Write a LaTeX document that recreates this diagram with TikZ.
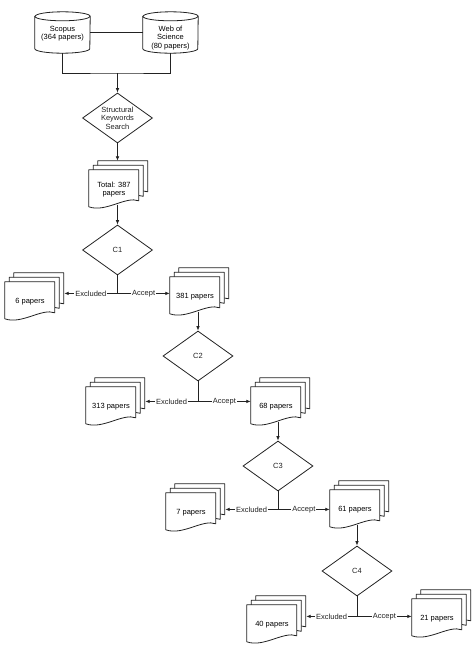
\documentclass[tikz,border=0pt]{standalone}
\usepackage{fontspec}
\setmainfont{Liberation Sans}
\usepackage{tikz}
\usetikzlibrary{arrows.meta,calc,shapes.geometric,backgrounds}
\definecolor{FlowInk}{HTML}{222222}

\tikzset{
  line/.style={FlowInk,line width=0.8pt},
  arr/.style={line,-{Latex[length=4.5pt,width=3.6pt]}},
  sheet/.style={line,fill=white,line join=round},
  sheettext/.style={font=\fontsize{7.5}{8.5}\selectfont,align=center,
    minimum width=50pt,minimum height=39pt,inner sep=0pt},
  check/.style={line,draw,diamond,aspect=1.4,minimum width=70pt,minimum height=50pt,
    inner sep=0pt,font=\fontsize{7.5}{8.5}\selectfont,align=center},
  dbbox/.style={minimum width=55pt,minimum height=41pt,inner sep=0pt},
  tag/.style={font=\fontsize{7.5}{8.5}\selectfont,fill=white,inner sep=1pt},
}

% three stacked sheets, #2 is the centre of the front sheet
\newcommand\paperstack[3]{%
  \node[sheettext] (#1) at (#2) {#3};
  \begin{pgfonlayer}{background}
    \begin{scope}[shift={(#1.north west)}]
      \foreach \k in {2,1,0}
        \draw[sheet,shift={(4.5*\k,-4.5*\k)}] (0,0) -- (50,0) -- (50,31)
          .. controls (37,26) and (17,43) .. (0,37) -- cycle;
    \end{scope}
  \end{pgfonlayer}
}
% database cylinder, #4 moves the text down
\newcommand\database[4]{%
  \node[dbbox] (#1) at (#2) {};
  \draw[line] ([yshift=-4.5pt]#1.north west) -- ([yshift=4.5pt]#1.south west)
    arc[start angle=180,end angle=360,x radius=27.5pt,y radius=4.5pt]
    -- ([yshift=-4.5pt]#1.north east)
    arc[start angle=0,end angle=180,x radius=27.5pt,y radius=4.5pt] -- cycle;
  \draw[line] ([yshift=-4.5pt]#1.north west)
    arc[start angle=180,end angle=360,x radius=27.5pt,y radius=4.5pt];
  \node[sheettext,minimum height=0pt] (#1-text) at ([yshift=#4]#1.center) {#3};
}

\begin{document}
\begin{tikzpicture}[x=1pt,y=-1pt]
  \useasboundingbox (0,0) rectangle (474,654);
  \database{scopus}{62.5,32.5}{Scopus\\(364 papers)}{-1pt}
  \database{wos}{170.5,32.5}{Web of\\Science\\(80 papers)}{-5.5pt}
  \node[check] (kw) at (117.5,118) {Structural\\Keywords\\Search};
  \paperstack{total}{114,189.5}{Total: 387\\papers}
  \node[check] (c1) at (117.5,250) {C1};
  \node[check] (c2) at (198,356) {C2};
  \node[check] (c3) at (278,466) {C3};
  \node[check] (c4) at (357,571) {C4};
  \paperstack{six}{30,301.5}{6 papers}
  \paperstack{s381}{195,296.5}{381 papers}
  \paperstack{s313}{111,406.5}{313 papers}
  \paperstack{s68}{276,406.5}{68 papers}
  \paperstack{s7}{191,512.5}{7 papers}
  \paperstack{s61}{355,509.5}{61 papers}
  \paperstack{s40}{272,624.5}{40 papers}
  \paperstack{s21}{437,618.5}{21 papers}

  % sources into the search
  \draw[line] (scopus) -- (wos);
  \coordinate (join) at (117.5,73);
  \draw[line] (scopus.south) |- (join) -| (wos.south);
  \draw[arr] (join) -- (kw.north);
  \draw[arr] (kw.south) -- ($(kw.south |- total.north)+(0,9pt)$);
  \draw[arr] ($(c1.north |- total.south)+(0,4.5pt)$) -- (c1.north);

  % each criterion splits into excluded and accepted papers
  \foreach \c/\d/\ex/\acc in {c1/18/six/s381,c2/20/s313/s68,c3/18/s7/s61,c4/20/s40/s21}{
    \coordinate (\c-b) at ($(\c.south)+(0,-\d pt)$);
    \draw[line] (\c.south) -- (\c-b);
    \draw[arr] (\c-b) -- ($(\c-b -| \ex.east)+(9pt,0)$) node[tag,midway] (\c-ex) {Excluded};
    \draw[arr] (\c-b) -- (\c-b -| \acc.west) node[tag,midway] (\c-acc) {Accept};
  }
  \foreach \a/\c in {s381/c2,s68/c3,s61/c4}
    \draw[arr] ($(\c.north |- \a.south)+(0,4.5pt)$) -- (\c.north);
\end{tikzpicture}
\end{document}
